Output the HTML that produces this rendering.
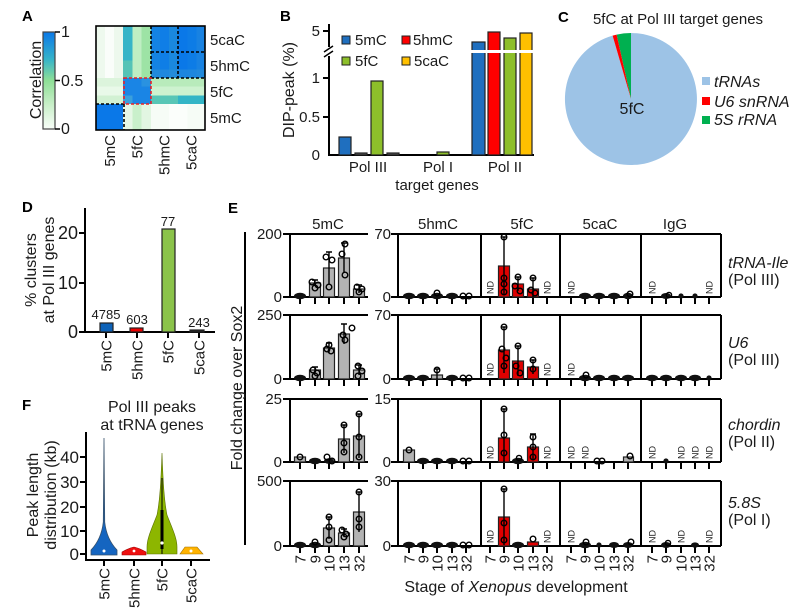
<!DOCTYPE html>
<html><head><meta charset="utf-8">
<style>
html,body{margin:0;padding:0;background:#fff;}
svg{display:block;}
text{font-family:"Liberation Sans",Arial,sans-serif;fill:#1a1a1a;}
.ax{stroke:#000;stroke-width:2;fill:none;}
.pt{fill:none;stroke:#000;stroke-width:1.4;}
.bg{fill:#b3b3b3;stroke:#222;stroke-width:1.2;}
.br{fill:#e00000;stroke:#222;stroke-width:1.2;}
.eb{stroke:#000;stroke-width:1.4;}
.bl{fill:#111;}
.nd{font-size:9px;fill:#222;}
.lt{font-size:15px;font-weight:bold;fill:#000;}
</style></head>
<body>
<svg width="796" height="609" viewBox="0 0 796 609" xmlns="http://www.w3.org/2000/svg">
<defs>
<linearGradient id="cb" x1="0" y1="0" x2="0" y2="1">
<stop offset="0" stop-color="#0a78e8"/>
<stop offset="0.28" stop-color="#35b3c9"/>
<stop offset="0.5" stop-color="#8edf96"/>
<stop offset="0.75" stop-color="#c9efc9"/>
<stop offset="1" stop-color="#f8fdf8"/>
</linearGradient>
</defs>

<!-- ================= PANEL A ================= -->
<text class="lt" x="22" y="21">A</text>
<rect x="43" y="32" width="12" height="97" fill="url(#cb)" stroke="#444" stroke-width="1.2"/>
<path d="M55,32 h5 M55,80.5 h5 M55,129 h5" stroke="#000" stroke-width="1.5"/>
<text x="61" y="37" font-size="16">1</text>
<text x="61" y="86" font-size="16">0.5</text>
<text x="61" y="134" font-size="16">0</text>
<text transform="translate(41,80) rotate(-90)" text-anchor="middle" font-size="16">Correlation</text>

<!-- heatmap cells: x0=96, w=9.083 ; y0=26, h=8.667 -->
<g shape-rendering="crispEdges">
<!-- rows 0-5 -->
<rect x="96" y="26" width="9.2" height="52" fill="#eef9ee"/>
<rect x="105.1" y="26" width="9.2" height="52" fill="#fafdfa"/>
<rect x="114.2" y="26" width="9.2" height="52" fill="#edf8ed"/>
<rect x="123.2" y="26" width="9.2" height="35" fill="#36b4c7"/>
<rect x="123.2" y="60.7" width="9.2" height="17.4" fill="#55c3b6"/>
<rect x="132.3" y="26" width="9.2" height="52" fill="#bfeec3"/>
<rect x="141.4" y="26" width="9.7" height="52" fill="#9de3a5"/>
<rect x="151" y="26" width="9.2" height="52" fill="#1483e2"/>
<rect x="160.1" y="26" width="9.2" height="52" fill="#0f7ee6"/>
<rect x="169.2" y="26" width="9.2" height="52" fill="#1a88de"/>
<rect x="178.2" y="26" width="9.2" height="52" fill="#0a78e8"/>
<rect x="187.3" y="26" width="9.2" height="52" fill="#0d7ce6"/>
<rect x="196.4" y="26" width="8.6" height="52" fill="#1882e2"/>
<rect x="151" y="69.3" width="54" height="8.7" fill="#2a8fd8" opacity="0.6"/>
<!-- rows 6-8 -->
<rect x="96" y="78" width="27.3" height="8.8" fill="#dcf4dc"/>
<rect x="96" y="86.7" width="27.3" height="8.8" fill="#e9f9e9"/>
<rect x="96" y="95.3" width="27.3" height="8.8" fill="#d2f1d3"/>
<rect x="123.2" y="78" width="27.8" height="26" fill="#1a85e5"/>
<rect x="123.2" y="95.3" width="9.2" height="8.7" fill="#3aa0dc"/>
<rect x="141.4" y="78" width="9.6" height="8.7" fill="#2a92e0"/>
<rect x="151" y="78" width="54" height="8.8" fill="#b8ebbb"/>
<rect x="151" y="86.7" width="54" height="8.8" fill="#cdf2cf"/>
<rect x="151" y="95.3" width="27.3" height="8.8" fill="#58c6b6"/>
<rect x="178.2" y="95.3" width="26.8" height="8.8" fill="#33b5c6"/>
<!-- rows 9-11 -->
<rect x="96" y="104" width="27.3" height="26" fill="#0a78e8"/>
<rect x="123.2" y="104" width="9.2" height="26" fill="#e6f7e6"/>
<rect x="132.3" y="104" width="9.2" height="26" fill="#c9f0cb"/>
<rect x="141.4" y="104" width="9.7" height="26" fill="#e2f6e2"/>
<rect x="151" y="104" width="54" height="26" fill="#f6fcf6"/>
<rect x="169.2" y="104" width="18.2" height="26" fill="#fbfefb"/>
</g>
<g fill="none" stroke-width="1.6" stroke-dasharray="3,2">
<path d="M151,26 V78 M151,78 H205 M178,26 V78 M151,52 H205 M124,104 V130 M96,104 H124" stroke="#000"/>
<rect x="124" y="78" width="27" height="26" stroke="#e8202a"/>
</g>
<rect x="96" y="26" width="109" height="104" fill="none" stroke="#000" stroke-width="1.6"/>
<text x="210" y="45" font-size="15">5caC</text>
<text x="210" y="71" font-size="15">5hmC</text>
<text x="210" y="97" font-size="15">5fC</text>
<text x="210" y="123" font-size="15">5mC</text>
<g font-size="15" text-anchor="end">
<text transform="translate(115,135) rotate(-90)">5mC</text>
<text transform="translate(142.5,135) rotate(-90)">5fC</text>
<text transform="translate(169.5,135) rotate(-90)">5hmC</text>
<text transform="translate(196.5,135) rotate(-90)">5caC</text>
</g>

<!-- ================= PANEL B ================= -->
<text class="lt" x="280" y="21">B</text>
<path class="ax" d="M329,24 V47 M329,56 V155 H534"/>
<path d="M323,31 h6 M323,78 h6 M323,117 h6" stroke="#000" stroke-width="2"/>
<path d="M324,52 L333,46 M324,57 L333,51" stroke="#000" stroke-width="1.5"/>
<g font-size="15" text-anchor="end">
<text x="320" y="36">5</text>
<text x="320" y="83">1</text>
<text x="320" y="122">0.5</text>
<text x="320" y="160">0</text>
</g>
<text transform="translate(294,90) rotate(-90)" text-anchor="middle" font-size="16">DIP-peak (%)</text>
<g stroke="#222" stroke-width="1.2">
<rect x="339" y="137" width="12" height="18" fill="#1f6fbf"/>
<rect x="355" y="153" width="12" height="2" fill="#555"/>
<rect x="371" y="81" width="12" height="74" fill="#8dbf2a"/>
<rect x="387" y="153" width="12" height="2" fill="#555"/>
<rect x="437" y="152" width="12" height="3" fill="#8dbf2a"/>
<rect x="472" y="42" width="13" height="113" fill="#1f6fbf"/>
<rect x="488" y="32" width="12" height="123" fill="#ff0000"/>
<rect x="504" y="38" width="12" height="117" fill="#8dbf2a"/>
<rect x="520" y="33" width="12" height="122" fill="#ffc000"/>
</g>
<rect x="466" y="50" width="70" height="3" fill="#fff"/>
<g stroke="#222" stroke-width="1">
<rect x="342" y="36" width="8" height="8" fill="#1f6fbf"/>
<rect x="402" y="36" width="8" height="8" fill="#ff0000"/>
<rect x="342" y="57" width="8" height="8" fill="#8dbf2a"/>
<rect x="402" y="57" width="8" height="8" fill="#ffc000"/>
</g>
<g font-size="15">
<text x="355" y="45">5mC</text>
<text x="413" y="45">5hmC</text>
<text x="355" y="66">5fC</text>
<text x="414" y="66">5caC</text>
</g>
<g font-size="15" text-anchor="middle">
<text x="368" y="172">Pol III</text>
<text x="438" y="172">Pol I</text>
<text x="505" y="172">Pol II</text>
<text x="437" y="190">target genes</text>
</g>

<!-- ================= PANEL C ================= -->
<text class="lt" x="558" y="22">C</text>
<text x="678" y="24" font-size="15" text-anchor="middle">5fC at Pol III target genes</text>
<path d="M631,99 L612.6,35.6 A66,66 0 1 0 631,33 Z" fill="#9dc3e6"/>
<path d="M631,99 L631,33 A66,66 0 0 0 616.6,34.6 Z" fill="#00b050"/>
<path d="M631,99 L616.6,34.6 A66,66 0 0 0 612.6,35.6 Z" fill="#ff0000"/>
<text x="632" y="114" font-size="16" text-anchor="middle">5fC</text>
<rect x="702" y="77" width="8" height="8" fill="#9dc3e6"/>
<rect x="702" y="97" width="8" height="8" fill="#ff0000"/>
<rect x="702" y="116" width="8" height="8" fill="#00b050"/>
<g font-size="16" font-style="italic">
<text x="714" y="87">tRNAs</text>
<text x="714" y="107">U6 snRNA</text>
<text x="714" y="125">5S rRNA</text>
</g>

<!-- ================= PANEL D ================= -->
<text class="lt" x="22" y="212">D</text>
<path class="ax" d="M85,208 V332 H215"/>
<path d="M79,233 h6 M79,283 h6 M79,332 h6 M106,332 v6 M137,332 v6 M168,332 v6 M199,332 v6" stroke="#000" stroke-width="2"/>
<g font-size="18" text-anchor="end">
<text x="78" y="239">20</text>
<text x="78" y="289">10</text>
<text x="78" y="338">0</text>
</g>
<g font-size="16" text-anchor="middle">
<text transform="translate(36,270) rotate(-90)">% clusters</text>
<text transform="translate(54,270) rotate(-90)">at Pol III genes</text>
</g>
<g stroke="#222" stroke-width="1.2">
<rect x="100" y="323" width="13" height="9" fill="#0d62b8"/>
<rect x="130" y="328" width="13" height="4" fill="#ee0000"/>
<rect x="162" y="229" width="13" height="103" fill="#8bc34a"/>
<rect x="190" y="330" width="14" height="2" fill="#222"/>
</g>
<g font-size="13" text-anchor="middle">
<text x="106" y="319">4785</text>
<text x="137" y="324">603</text>
<text x="168" y="226">77</text>
<text x="199" y="327">243</text>
</g>
<g font-size="15" text-anchor="end">
<text transform="translate(111.5,340) rotate(-90)">5mC</text>
<text transform="translate(142.5,340) rotate(-90)">5hmC</text>
<text transform="translate(173.5,340) rotate(-90)">5fC</text>
<text transform="translate(204.5,340) rotate(-90)">5caC</text>
</g>

<!-- ================= PANEL F ================= -->
<text class="lt" x="22" y="410">F</text>
<g font-size="16" text-anchor="middle">
<text x="152" y="412">Pol III peaks</text>
<text x="152" y="430">at tRNA genes</text>
<text transform="translate(38,495) rotate(-90)">Peak length</text>
<text transform="translate(56,495) rotate(-90)">distribution (kb)</text>
</g>
<path class="ax" d="M86,432 V560 H210"/>
<path d="M80,457 h6 M80,482 h6 M80,507 h6 M80,531 h6 M80,554 h6 M104,560 v6 M134,560 v6 M162,560 v6 M191,560 v6" stroke="#000" stroke-width="2"/>
<g font-size="17" text-anchor="end">
<text x="79" y="463">40</text>
<text x="79" y="488">30</text>
<text x="79" y="513">20</text>
<text x="79" y="537">10</text>
<text x="79" y="560">0</text>
</g>
<path d="M104,438 L104.7,522 Q106.5,539 117,550 L117,555 L91,555 L91,550 Q101.5,539 103.3,522 Z" fill="#1565c0" stroke="#36506a" stroke-width="0.8"/>
<path d="M134,547 Q139,548 146,552 L146,555 L122,555 L122,552 Q129,548 134,547 Z" fill="#ee1010" stroke="#900" stroke-width="0.6"/>
<path d="M162,453 C163,480 164,500 167,515 C172,528 177,538 177,547 L177,554 L147,554 L147,547 C147,538 152,528 157,515 C160,500 161,480 162,453 Z" fill="#8db600" stroke="#5a7000" stroke-width="0.6"/>
<path d="M185,547 L197,547 L203,554 L180,554 Z" fill="#ffb300" stroke="#a07000" stroke-width="0.6"/>
<path d="M162,478 V554" stroke="#000" stroke-width="1"/>
<rect x="160.5" y="510" width="3" height="39" fill="#000"/>
<circle cx="104" cy="551" r="1.5" fill="#fff"/>
<circle cx="134" cy="551" r="1.4" fill="#fff"/>
<circle cx="162" cy="543" r="1.6" fill="#fff"/>
<circle cx="191" cy="551" r="1.5" fill="#fff"/>
<g font-size="15" text-anchor="end">
<text transform="translate(109.5,568) rotate(-90)">5mC</text>
<text transform="translate(139.5,568) rotate(-90)">5hmC</text>
<text transform="translate(167.5,568) rotate(-90)">5fC</text>
<text transform="translate(196.5,568) rotate(-90)">5caC</text>
</g>

<!-- ================= PANEL E ================= -->
<text class="lt" x="228" y="213">E</text>
<path d="M245,232 V545" stroke="#000" stroke-width="2"/>
<text transform="translate(242,388) rotate(-90)" text-anchor="middle" font-size="16">Fold change over Sox2</text>
<g font-size="15" text-anchor="middle">
<text x="328" y="229">5mC</text>
<text x="438" y="229">5hmC</text>
<text x="522" y="229">5fC</text>
<text x="600" y="229">5caC</text>
<text x="675" y="229">IgG</text>
</g>
<g font-size="16">
<text x="728" y="268" font-style="italic">tRNA-Ile</text>
<text x="728" y="285">(Pol III)</text>
<text x="728" y="348" font-style="italic">U6</text>
<text x="728" y="365">(Pol III)</text>
<text x="728" y="430" font-style="italic">chordin</text>
<text x="728" y="447">(Pol II)</text>
<text x="728" y="508" font-style="italic">5.8S</text>
<text x="728" y="525">(Pol I)</text>
</g>

<!-- frames -->
<g class="ax">
<path d="M283,234 H368 M290,234 V297 M283,297 H368 M391,234 H721 M391,297 H721 M398,234 V297 M481,234 V297 M560,234 V297 M641,234 V297 M721,234 V297"/>
<path d="M283,315 H368 M290,315 V379 M283,379 H368 M391,315 H721 M391,379 H721 M398,315 V379 M481,315 V379 M560,315 V379 M641,315 V379 M721,315 V379"/>
<path d="M283,399 H368 M290,399 V462 M283,462 H368 M391,399 H721 M391,462 H721 M398,399 V462 M481,399 V462 M560,399 V462 M641,399 V462 M721,399 V462"/>
<path d="M283,481 H368 M290,481 V546 M283,546 H368 M391,481 H721 M391,546 H721 M398,481 V546 M481,481 V546 M560,481 V546 M641,481 V546 M721,481 V546"/>
</g>
<!-- x ticks -->
<g stroke="#000" stroke-width="2">
<path d="M300,297v7M315,297v7M329,297v7M344,297v7M359,297v7M409,297v7M423,297v7M437,297v7M452,297v7M466,297v7M490,297v7M504,297v7M518,297v7M533,297v7M547,297v7M571,297v7M585,297v7M599,297v7M614,297v7M628,297v7M652,297v7M666,297v7M681,297v7M695,297v7M709,297v7"/>
<path d="M300,379v7M315,379v7M329,379v7M344,379v7M359,379v7M409,379v7M423,379v7M437,379v7M452,379v7M466,379v7M490,379v7M504,379v7M518,379v7M533,379v7M547,379v7M571,379v7M585,379v7M599,379v7M614,379v7M628,379v7M652,379v7M666,379v7M681,379v7M695,379v7M709,379v7"/>
<path d="M300,462v7M315,462v7M329,462v7M344,462v7M359,462v7M409,462v7M423,462v7M437,462v7M452,462v7M466,462v7M490,462v7M504,462v7M518,462v7M533,462v7M547,462v7M571,462v7M585,462v7M599,462v7M614,462v7M628,462v7M652,462v7M666,462v7M681,462v7M695,462v7M709,462v7"/>
<path d="M300,546v7M315,546v7M329,546v7M344,546v7M359,546v7M409,546v7M423,546v7M437,546v7M452,546v7M466,546v7M490,546v7M504,546v7M518,546v7M533,546v7M547,546v7M571,546v7M585,546v7M599,546v7M614,546v7M628,546v7M652,546v7M666,546v7M681,546v7M695,546v7M709,546v7"/>
</g>
<!-- y tick labels -->
<g font-size="15" text-anchor="end">
<text x="282" y="239">200</text><text x="282" y="302">0</text>
<text x="391" y="239">70</text><text x="391" y="302">0</text>
<text x="282" y="320">250</text><text x="282" y="384">0</text>
<text x="391" y="320">70</text><text x="391" y="384">0</text>
<text x="282" y="404">25</text><text x="282" y="467">0</text>
<text x="391" y="404">15</text><text x="391" y="467">0</text>
<text x="282" y="486">500</text><text x="282" y="551">0</text>
<text x="391" y="486">30</text><text x="391" y="551">0</text>
</g>

<!-- ===== ROW 1 (yB=297) ===== -->
<g>
<ellipse class="bl" cx="300" cy="296" rx="6" ry="3.2"/>
<rect class="bg" x="309.5" y="283" width="11" height="14"/>
<path class="eb" d="M315,280V286M312,280h6"/>
<circle class="pt" cx="312" cy="282" r="2.8"/><circle class="pt" cx="318" cy="285" r="2.8"/><circle class="pt" cx="315" cy="288" r="2.8"/>
<rect class="bg" x="323.5" y="268" width="11" height="29"/>
<path class="eb" d="M329,252V284M326,252h6"/>
<circle class="pt" cx="326" cy="257" r="2.8"/><circle class="pt" cx="332" cy="260" r="2.8"/><circle class="pt" cx="329" cy="287" r="2.8"/>
<rect class="bg" x="338.5" y="258" width="11" height="39"/>
<path class="eb" d="M344,243V273M341,243h6"/>
<circle class="pt" cx="345" cy="244" r="2.8"/><circle class="pt" cx="342" cy="254" r="2.8"/><circle class="pt" cx="345" cy="275" r="2.8"/>
<rect class="bg" x="353.5" y="289" width="11" height="8"/>
<path class="eb" d="M359,285V293M356,285h6"/>
<circle class="pt" cx="357" cy="287" r="2.8"/><circle class="pt" cx="362" cy="289" r="2.8"/><circle class="pt" cx="359" cy="292" r="2.8"/>

<ellipse class="bl" cx="409" cy="296" rx="6" ry="3.2"/><ellipse class="bl" cx="423" cy="296" rx="6" ry="3.2"/><ellipse class="bl" cx="437" cy="296" rx="6" ry="3.2"/><circle class="pt" cx="437" cy="293" r="2.8"/><ellipse class="bl" cx="452" cy="296" rx="6" ry="3.2"/>
<circle class="pt" cx="463" cy="296" r="2.8"/><circle class="pt" cx="469" cy="296" r="2.8"/>

<text class="nd" transform="translate(493.5,294) rotate(-90)">ND</text>
<rect class="br" x="498.5" y="266" width="11" height="31"/>
<path class="eb" d="M504,237V295M501,237h6"/>
<circle class="pt" cx="504" cy="237" r="2.8"/><circle class="pt" cx="504" cy="278" r="2.8"/><circle class="pt" cx="504" cy="284" r="2.8"/><circle class="pt" cx="504" cy="292" r="2.8"/>
<rect class="br" x="512.5" y="284" width="11" height="13"/>
<path class="eb" d="M518,277V291M515,277h6"/>
<circle class="pt" cx="518" cy="277" r="2.8"/><circle class="pt" cx="515" cy="286" r="2.8"/><circle class="pt" cx="520" cy="291" r="2.8"/>
<rect class="br" x="527.5" y="289" width="11" height="8"/>
<path class="eb" d="M533,278V297M530,278h6"/>
<circle class="pt" cx="533" cy="278" r="2.8"/><circle class="pt" cx="531" cy="290" r="2.8"/><circle class="pt" cx="535" cy="293" r="2.8"/>
<text class="nd" transform="translate(550.5,294) rotate(-90)">ND</text>

<text class="nd" transform="translate(574.5,294) rotate(-90)">ND</text>
<ellipse class="bl" cx="585" cy="296" rx="6" ry="3.2"/><ellipse class="bl" cx="599" cy="296" rx="6" ry="3.2"/><ellipse class="bl" cx="614" cy="296" rx="6" ry="3.2"/><ellipse class="bl" cx="628" cy="296" rx="5" ry="3.2"/><circle class="pt" cx="630" cy="294" r="2.8"/>

<text class="nd" transform="translate(655.5,294) rotate(-90)">ND</text>
<ellipse class="bl" cx="666" cy="296" rx="5" ry="3"/><circle class="pt" cx="669" cy="295" r="2.6"/>
<circle class="bl" cx="681" cy="296" r="2.6"/><circle class="bl" cx="695" cy="296" r="2.6"/>
<text class="nd" transform="translate(712.5,294) rotate(-90)">ND</text>
</g>

<!-- ===== ROW 2 (yB=379) ===== -->
<g>
<ellipse class="bl" cx="300" cy="378" rx="6" ry="3.2"/>
<rect class="bg" x="309.5" y="370" width="11" height="9"/>
<path class="eb" d="M315,367V373M312,367h6"/>
<circle class="pt" cx="313" cy="370" r="2.8"/><circle class="pt" cx="317" cy="373" r="2.8"/><circle class="pt" cx="315" cy="376" r="2.8"/>
<rect class="bg" x="323.5" y="348" width="11" height="31"/>
<path class="eb" d="M329,343V353M326,343h6"/>
<circle class="pt" cx="329" cy="345" r="2.8"/><circle class="pt" cx="327" cy="349" r="2.8"/><circle class="pt" cx="331" cy="351" r="2.8"/>
<rect class="bg" x="338.5" y="334" width="11" height="45"/>
<path class="eb" d="M344,324V344M341,324h6"/>
<circle class="pt" cx="352" cy="328" r="2.8"/><circle class="pt" cx="343" cy="335" r="2.8"/><circle class="pt" cx="345" cy="340" r="2.8"/>
<rect class="bg" x="353.5" y="370" width="11" height="9"/>
<path class="eb" d="M359,365V375M356,365h6"/>
<circle class="pt" cx="358" cy="366" r="2.8"/><circle class="pt" cx="362" cy="371" r="2.8"/><circle class="pt" cx="358" cy="376" r="2.8"/>

<ellipse class="bl" cx="409" cy="378" rx="6" ry="3.2"/><ellipse class="bl" cx="423" cy="378" rx="6" ry="3.2"/>
<rect class="bg" x="431.5" y="375" width="11" height="4"/><path class="eb" d="M437,369V379M434,369h6"/><circle class="pt" cx="437" cy="370" r="2.8"/>
<ellipse class="bl" cx="452" cy="378" rx="6" ry="3.2"/>
<circle class="pt" cx="463" cy="378" r="2.8"/><circle class="pt" cx="469" cy="378" r="2.8"/>

<text class="nd" transform="translate(493.5,376) rotate(-90)">ND</text>
<rect class="br" x="498.5" y="350" width="11" height="29"/>
<path class="eb" d="M504,327V373M501,327h6"/>
<circle class="pt" cx="504" cy="327" r="2.8"/><circle class="pt" cx="502" cy="349" r="2.8"/><circle class="pt" cx="506" cy="358" r="2.8"/><circle class="pt" cx="504" cy="366" r="2.8"/>
<rect class="br" x="512.5" y="361" width="11" height="18"/>
<path class="eb" d="M518,346V376M515,346h6"/>
<circle class="pt" cx="518" cy="346" r="2.8"/><circle class="pt" cx="516" cy="366" r="2.8"/><circle class="pt" cx="520" cy="373" r="2.8"/>
<rect class="br" x="527.5" y="367" width="11" height="12"/>
<path class="eb" d="M533,360V374M530,360h6"/>
<circle class="pt" cx="533" cy="360" r="2.8"/><circle class="pt" cx="533" cy="369" r="2.8"/>
<text class="nd" transform="translate(550.5,376) rotate(-90)">ND</text>

<text class="nd" transform="translate(574.5,376) rotate(-90)">ND</text>
<ellipse class="bl" cx="585" cy="378" rx="6" ry="3.2"/><circle class="pt" cx="586" cy="375" r="2.8"/>
<ellipse class="bl" cx="599" cy="378" rx="6" ry="3.2"/><ellipse class="bl" cx="614" cy="378" rx="6" ry="3.2"/><ellipse class="bl" cx="628" cy="378" rx="6" ry="3.2"/>

<ellipse class="bl" cx="652" cy="378" rx="6" ry="3.2"/><ellipse class="bl" cx="666" cy="378" rx="6" ry="3.2"/><ellipse class="bl" cx="681" cy="378" rx="6" ry="3.2"/><ellipse class="bl" cx="695" cy="378" rx="6" ry="3.2"/><circle class="bl" cx="709" cy="378" r="2.6"/>
</g>

<!-- ===== ROW 3 (yB=462) ===== -->
<g>
<rect class="bg" x="294.5" y="457" width="11" height="5"/><circle class="pt" cx="300" cy="457" r="2.8"/>
<ellipse class="bl" cx="315" cy="461" rx="6" ry="3.2"/>
<ellipse class="bl" cx="329" cy="461" rx="5" ry="2.8"/><circle class="pt" cx="327" cy="457" r="2.8"/><circle class="pt" cx="332" cy="461" r="2.8"/>
<rect class="bg" x="338.5" y="439" width="11" height="23"/>
<path class="eb" d="M344,425V453M341,425h6"/>
<circle class="pt" cx="344" cy="425" r="2.8"/><circle class="pt" cx="344" cy="443" r="2.8"/><circle class="pt" cx="344" cy="452" r="2.8"/>
<rect class="bg" x="353.5" y="436" width="11" height="26"/>
<path class="eb" d="M359,414V458M356,414h6"/>
<circle class="pt" cx="359" cy="414" r="2.8"/><circle class="pt" cx="359" cy="437" r="2.8"/><circle class="pt" cx="359" cy="457" r="2.8"/>

<rect class="bg" x="403.5" y="450" width="11" height="12"/><circle class="pt" cx="409" cy="450" r="2.8"/>
<ellipse class="bl" cx="423" cy="461" rx="6" ry="3.2"/><ellipse class="bl" cx="437" cy="461" rx="6" ry="3.2"/><ellipse class="bl" cx="452" cy="461" rx="6" ry="3.2"/>
<circle class="pt" cx="463" cy="461" r="2.8"/><circle class="pt" cx="469" cy="461" r="2.8"/>

<text class="nd" transform="translate(493.5,459) rotate(-90)">ND</text>
<rect class="br" x="498.5" y="438" width="11" height="24"/>
<path class="eb" d="M504,409V462M501,409h6"/>
<circle class="pt" cx="504" cy="409" r="2.8"/><circle class="pt" cx="504" cy="435" r="2.8"/><circle class="pt" cx="504" cy="453" r="2.8"/>
<ellipse class="bl" cx="518" cy="461" rx="6" ry="3.2"/><circle class="pt" cx="519" cy="458" r="2.6"/>
<rect class="br" x="527.5" y="447" width="11" height="15"/>
<path class="eb" d="M533,434V460M530,434h6"/>
<circle class="pt" cx="533" cy="437" r="2.8"/><circle class="pt" cx="533" cy="447" r="2.8"/><circle class="pt" cx="533" cy="457" r="2.8"/>
<text class="nd" transform="translate(550.5,459) rotate(-90)">ND</text>

<text class="nd" transform="translate(574.5,459) rotate(-90)">ND</text>
<text class="nd" transform="translate(588.5,459) rotate(-90)">ND</text>
<circle class="pt" cx="597" cy="461" r="2.8"/><circle class="pt" cx="602" cy="461" r="2.8"/>
<rect class="bg" x="623.5" y="457" width="10" height="5"/><circle class="pt" cx="630" cy="456" r="2.8"/>

<text class="nd" transform="translate(655.5,459) rotate(-90)">ND</text>
<circle class="bl" cx="666" cy="461" r="2.6"/>
<text class="nd" transform="translate(684.5,459) rotate(-90)">ND</text>
<text class="nd" transform="translate(698.5,459) rotate(-90)">ND</text>
<text class="nd" transform="translate(712.5,459) rotate(-90)">ND</text>
</g>

<!-- ===== ROW 4 (yB=546) ===== -->
<g>
<ellipse class="bl" cx="300" cy="545" rx="6" ry="3.2"/>
<ellipse class="bl" cx="315" cy="545" rx="6" ry="3.2"/><circle class="pt" cx="315" cy="542" r="2.8"/>
<rect class="bg" x="323.5" y="528" width="11" height="18"/>
<path class="eb" d="M329,517V539M326,517h6"/>
<circle class="pt" cx="329" cy="517" r="2.8"/><circle class="pt" cx="329" cy="527" r="2.8"/><circle class="pt" cx="329" cy="540" r="2.8"/>
<rect class="bg" x="338.5" y="533" width="11" height="13"/>
<path class="eb" d="M344,529V537M341,529h6"/>
<circle class="pt" cx="342" cy="530" r="2.8"/><circle class="pt" cx="346" cy="534" r="2.8"/><circle class="pt" cx="344" cy="537" r="2.8"/>
<rect class="bg" x="353.5" y="512" width="11" height="34"/>
<path class="eb" d="M359,492V532M356,492h6"/>
<circle class="pt" cx="359" cy="492" r="2.8"/><circle class="pt" cx="359" cy="519" r="2.8"/><circle class="pt" cx="359" cy="527" r="2.8"/>

<ellipse class="bl" cx="409" cy="545" rx="6" ry="3.2"/><ellipse class="bl" cx="423" cy="545" rx="6" ry="3.2"/><ellipse class="bl" cx="437" cy="545" rx="6" ry="3.2"/><ellipse class="bl" cx="452" cy="545" rx="6" ry="3.2"/>
<circle class="pt" cx="463" cy="545" r="2.8"/><circle class="pt" cx="469" cy="545" r="2.8"/>

<text class="nd" transform="translate(493.5,543) rotate(-90)">ND</text>
<rect class="br" x="498.5" y="517" width="11" height="29"/>
<path class="eb" d="M504,489V545M501,489h6"/>
<circle class="pt" cx="504" cy="489" r="2.8"/><circle class="pt" cx="504" cy="523" r="2.8"/><circle class="pt" cx="504" cy="540" r="2.8"/>
<ellipse class="bl" cx="518" cy="545" rx="6" ry="3.2"/>
<rect class="br" x="527.5" y="542" width="11" height="4"/><circle class="pt" cx="533" cy="539" r="2.8"/>
<text class="nd" transform="translate(550.5,543) rotate(-90)">ND</text>

<text class="nd" transform="translate(574.5,543) rotate(-90)">ND</text>
<ellipse class="bl" cx="585" cy="545" rx="6" ry="3.2"/><circle class="pt" cx="586" cy="542" r="2.8"/>
<circle class="bl" cx="599" cy="545" r="2.6"/>
<ellipse class="bl" cx="614" cy="545" rx="5" ry="3"/>
<ellipse class="bl" cx="628" cy="545" rx="5" ry="3"/><circle class="pt" cx="631" cy="542" r="2.8"/>

<text class="nd" transform="translate(655.5,543) rotate(-90)">ND</text>
<ellipse class="bl" cx="666" cy="545" rx="5" ry="3"/><circle class="pt" cx="668" cy="543" r="2.6"/>
<text class="nd" transform="translate(684.5,543) rotate(-90)">ND</text>
<ellipse class="bl" cx="695" cy="545" rx="4" ry="2.6"/>
<text class="nd" transform="translate(712.5,543) rotate(-90)">ND</text>
</g>

<!-- x tick labels -->
<g font-size="15" text-anchor="end">
<text transform="translate(305.5,555) rotate(-90)">7</text>
<text transform="translate(320.5,555) rotate(-90)">9</text>
<text transform="translate(334.5,555) rotate(-90)">10</text>
<text transform="translate(349.5,555) rotate(-90)">13</text>
<text transform="translate(364.5,555) rotate(-90)">32</text>
<text transform="translate(414.5,555) rotate(-90)">7</text>
<text transform="translate(428.5,555) rotate(-90)">9</text>
<text transform="translate(442.5,555) rotate(-90)">10</text>
<text transform="translate(457.5,555) rotate(-90)">13</text>
<text transform="translate(471.5,555) rotate(-90)">32</text>
<text transform="translate(495.5,555) rotate(-90)">7</text>
<text transform="translate(509.5,555) rotate(-90)">9</text>
<text transform="translate(523.5,555) rotate(-90)">10</text>
<text transform="translate(538.5,555) rotate(-90)">13</text>
<text transform="translate(552.5,555) rotate(-90)">32</text>
<text transform="translate(576.5,555) rotate(-90)">7</text>
<text transform="translate(590.5,555) rotate(-90)">9</text>
<text transform="translate(604.5,555) rotate(-90)">10</text>
<text transform="translate(619.5,555) rotate(-90)">13</text>
<text transform="translate(633.5,555) rotate(-90)">32</text>
<text transform="translate(657.5,555) rotate(-90)">7</text>
<text transform="translate(671.5,555) rotate(-90)">9</text>
<text transform="translate(686.5,555) rotate(-90)">10</text>
<text transform="translate(700.5,555) rotate(-90)">13</text>
<text transform="translate(714.5,555) rotate(-90)">32</text>
</g>
<text x="516" y="592" font-size="16" text-anchor="middle">Stage of <tspan font-style="italic">Xenopus</tspan> development</text>
</svg>
</body></html>
